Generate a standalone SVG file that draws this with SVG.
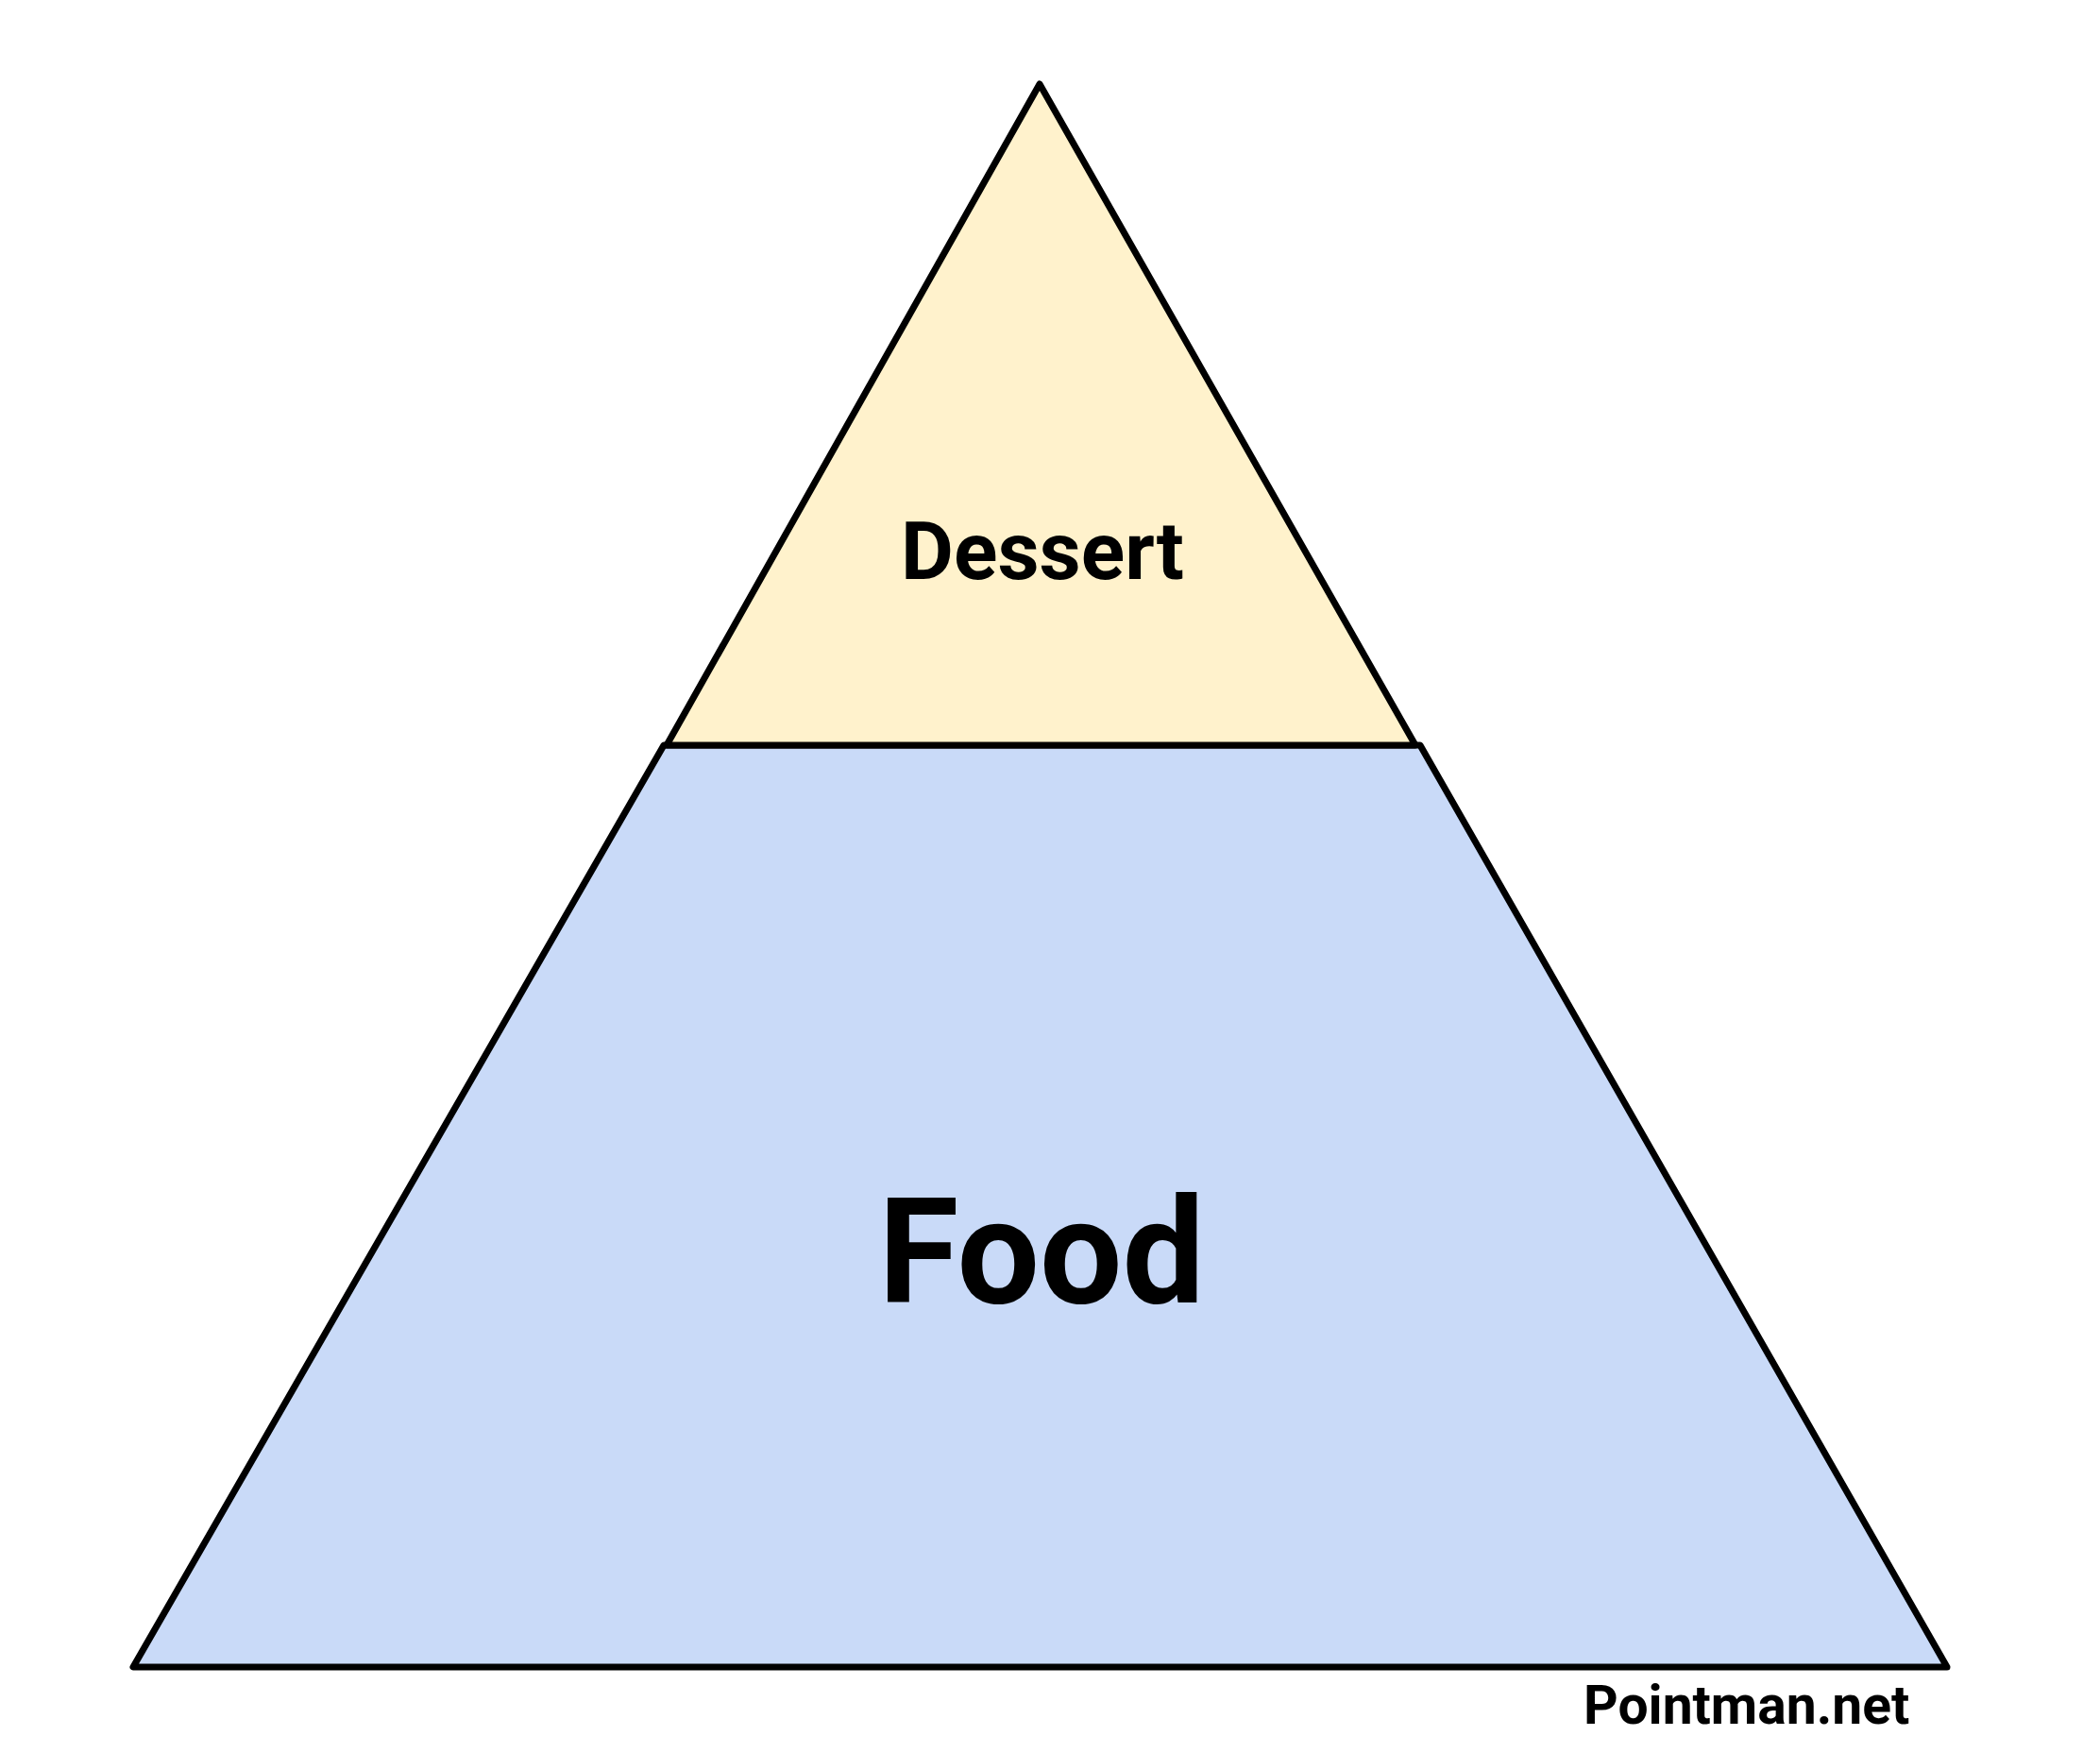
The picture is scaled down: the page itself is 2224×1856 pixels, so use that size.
<svg xmlns="http://www.w3.org/2000/svg" width="2224" height="1856" viewBox="0 0 2224 1856">
<style>
.shape{stroke:#000;stroke-width:7;stroke-linejoin:round}
.lbl{font-family:Roboto,"Liberation Sans",sans-serif;font-weight:bold;fill:#000;text-anchor:middle}
</style>
<rect width="2224" height="1856" fill="#fff"/>
<g id="food">
<polygon class="shape" fill="#C9DAF8" points="141,1765 2062,1765 1504,789 703,789"/>
<text class="lbl" x="1103" y="1379" font-size="155">Food</text>
</g>
<g id="dessert">
<polygon class="shape" fill="#FFF2CC" points="1101,89 1499,789 706,789"/>
<text class="lbl" x="1104" y="613" font-size="86">Dessert</text>
</g>
<g id="connectors"></g>
<text id="credit" x="1677" y="1825" font-family="Roboto,'Liberation Sans',sans-serif" font-weight="bold" font-size="57" fill="#000">Pointman.net</text>
</svg>
